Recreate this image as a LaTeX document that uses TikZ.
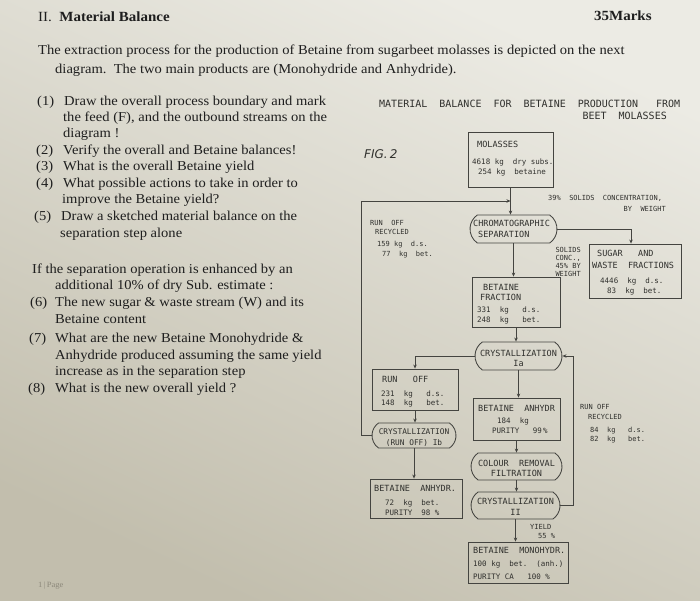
\documentclass[tikz,border=0pt]{standalone}
\usepackage{fontspec}
\setmainfont{Liberation Serif}[FakeStretch=1.07]
\newfontfamily\lett{DejaVu Sans Mono}
\newfontfamily\figfont{DejaVu Sans}
\usetikzlibrary{arrows.meta,shapes.misc}
\definecolor{bgtop}{RGB}{236,235,228}
\definecolor{bgbot}{RGB}{194,190,173}
\definecolor{lc}{RGB}{68,68,64}
\definecolor{tc}{RGB}{48,48,45}
\definecolor{txc}{RGB}{30,30,30}
\definecolor{faint}{RGB}{140,136,122}
\begin{document}
\begin{tikzpicture}[x=1pt,y=-1pt,
  box/.style={draw=lc, line width=0.85pt, inner sep=0pt, rectangle},
  proc/.style={draw=lc, line width=0.85pt, inner sep=0pt, rounded rectangle, rounded rectangle arc length=110},
  con/.style={draw=lc, line width=0.85pt},
  arr/.style={con, -{Stealth[length=4pt,width=3.5pt]}},
  ti/.style={font=\lett\fontsize{8.5}{9}\selectfont, text=tc, inner sep=0pt, anchor=base west},
  tic/.style={ti, anchor=base},
  tis/.style={font=\lett\fontsize{7.8}{9}\selectfont, text=tc, inner sep=0pt, anchor=base},
  da/.style={font=\lett\fontsize{7.5}{8}\selectfont, text=tc, inner sep=0pt, anchor=base west},
  sm/.style={font=\lett\fontsize{7}{8}\selectfont, text=tc, inner sep=0pt, anchor=base west},
  smr/.style={sm, anchor=base east},
  hd/.style={font=\lett\fontsize{10}{11}\selectfont, text=tc, inner sep=0pt, anchor=base west},
  tx/.style={font=\fontsize{13.6}{16}\selectfont, text=txc, inner sep=0pt, anchor=base west},
  ttl/.style={font=\fontsize{14}{16}\selectfont, text=txc, inner sep=0pt, anchor=base west}]
\useasboundingbox (0,0) rectangle (700,601);
\shade[top color=bgtop, bottom color=bgbot, shading angle=-25] (0,0) rectangle (700,601);

% ---------- header and questions ----------
\node[ttl] (h1) at (38,22) {II.\ \ \textbf{Material Balance}};
\node[ttl] (h2) at (594,21) {\textbf{35Marks}};
\node[tx] (p1) at (38,55) {The extraction process for the production of Betaine from sugarbeet molasses is depicted on the next};
\node[tx] (p2) at (55,74) {diagram.\ \ The two main products are (Monohydride and Anhydride).};

\node[tx] (q1n) at (37,106) {(1)};
\node[tx] (q1a) at (64,106) {Draw the overall process boundary and mark};
\node[tx] (q1b) at (63,122) {the feed (F), and the outbound streams on the};
\node[tx] (q1c) at (63,138) {diagram !};
\node[tx] (q2n) at (36,155) {(2)};
\node[tx] (q2a) at (63,155) {Verify the overall and Betaine balances!};
\node[tx] (q3n) at (36,171) {(3)};
\node[tx] (q3a) at (63,171) {What is the overall Betaine yield};
\node[tx] (q4n) at (36,188) {(4)};
\node[tx] (q4a) at (63,188) {What possible actions to take in order to};
\node[tx] (q4b) at (62,204) {improve the Betaine yield?};
\node[tx] (q5n) at (34,221) {(5)};
\node[tx] (q5a) at (61,221) {Draw a sketched material balance on the};
\node[tx] (q5b) at (60,238) {separation step alone};

\node[tx] (r0) at (32,273) {If the separation operation is enhanced by an};
\node[tx] (r0b) at (55,289) {additional 10\% of dry Sub. estimate :};
\node[tx] (q6n) at (30,306) {(6)};
\node[tx] (q6a) at (55,306) {The new sugar \& waste stream (W) and its};
\node[tx] (q6b) at (55,323) {Betaine content};
\node[tx] (q7n) at (29,342) {(7)};
\node[tx] (q7a) at (55,342) {What are the new Betaine Monohydride \&};
\node[tx] (q7b) at (55,359) {Anhydride produced assuming the same yield};
\node[tx] (q7c) at (55,375) {increase as in the separation step};
\node[tx] (q8n) at (28,392) {(8)};
\node[tx] (q8a) at (55,392) {What is the new overall yield ?};

\node[font=\fontsize{8}{9}\selectfont, text=faint, inner sep=0pt, anchor=base west] (pg) at (38,587) {1\,|\,Page};

% ---------- diagram heading ----------
\node[hd] (d1) at (379,108) {MATERIAL\ \ BALANCE\ \ FOR\ \ BETAINE\ \ PRODUCTION\ \ \ FROM};
\node[hd, anchor=base east] (d2) at (667,120) {BEET\ \ MOLASSES};
\node[font=\figfont\itshape\fontsize{12}{13}\selectfont, text=tc, inner sep=0pt, anchor=base west] (fig) at (364,159) {FIG.\,2};

% ---------- boxes ----------
\node[box, minimum width=85pt, minimum height=55pt] (mol) at (510.5,159.5) {};
\node[proc, minimum width=87pt, minimum height=28pt] (chrom) at (513.5,229) {};
\node[box, minimum width=92pt, minimum height=54pt] (sugar) at (635,271) {};
\node[box, minimum width=88pt, minimum height=50pt] (betfr) at (516,302) {};
\node[proc, minimum width=87pt, minimum height=28pt] (crIa) at (518.5,356) {};
\node[box, minimum width=86pt, minimum height=41pt] (runoff) at (415,389.5) {};
\node[proc, minimum width=84pt, minimum height=25pt] (crIb) at (414,435.5) {};
\node[box, minimum width=87pt, minimum height=42pt] (anh1) at (516.5,419) {};
\node[proc, minimum width=91pt, minimum height=27pt] (colour) at (516.5,466.5) {};
\node[proc, minimum width=89pt, minimum height=27pt] (crII) at (515.5,505.5) {};
\node[box, minimum width=100pt, minimum height=41pt] (mono) at (518,562.5) {};
\node[box, minimum width=92pt, minimum height=39pt] (anh2) at (416,498.5) {};

% ---------- connectors ----------
\coordinate (jn) at (mol.south |- 0,201);
\draw[arr] (mol.south) -- (mol.south |- chrom.north);
\draw[arr] (crIb.west) -- ++(-10,0) |- (jn);
\draw[arr] (chrom.east) -| ([xshift=-4pt]sugar.north);
\draw[arr] (chrom.south) -- (chrom.south |- betfr.north);
\draw[arr] (betfr.south) -- (betfr.south |- crIa.north);
\draw[arr] (crIa.west) -| (runoff.north);
\draw[arr] (runoff.south) -- (runoff.south |- crIb.north);
\draw[arr] (crIb.south) -- (crIb.south |- anh2.north);
\draw[arr] (crIa.south) -- (crIa.south |- anh1.north);
\draw[arr] (anh1.south) -- (anh1.south |- colour.north);
\draw[arr] (colour.south) -- (colour.south |- crII.north);
\draw[arr] (crII.south) -- (crII.south |- mono.north);
\draw[arr] (crII.east) -| ([xshift=11pt]crIa.east) -- (crIa.east);

% ---------- texts in diagram ----------
\node[ti] (m1) at (477,148) {MOLASSES};
\node[da] (m2) at (472,165) {4618\ kg\ \ dry\ subs.};
\node[da] (m3) at (478,175) {254\ kg\ \ betaine};

\node[sm] (s1) at (548,201) {39\%\ \ SOLIDS\ \ CONCENTRATION,};
\node[smr] (s2) at (666,212) {BY\ \ WEIGHT};

\node[ti] (c1) at (473,227) {CHROMATOGRAPHIC};
\node[ti] (c2) at (478,238) {SEPARATION};

\node[sm] (l1) at (370,226) {RUN\ \ OFF};
\node[sm] (l2) at (375,235) {RECYCLED};
\node[sm] (l3) at (377,247) {159\ kg\ \ d.s.};
\node[sm] (l4) at (382,256) {77\ \ kg\ \ bet.};

\node[smr] (k1) at (581,252) {SOLIDS};
\node[smr] (k2) at (581,260) {CONC.,};
\node[smr] (k3) at (581,268) {45\%\ BY};
\node[smr] (k4) at (581,276) {WEIGHT};

\node[ti] (w1) at (597,257) {SUGAR\ \ \ AND};
\node[ti] (w2) at (592,269) {WASTE\ \ FRACTIONS};
\node[da] (w3) at (600,283) {4446\ \ kg\ \ d.s.};
\node[da] (w4) at (607,293) {83\ \ kg\ \ bet.};

\node[ti] (b1) at (483,290) {BETAINE};
\node[ti] (b2) at (480,300) {FRACTION};
\node[da] (b3) at (477,312) {331\ \ kg\ \ \ d.s.};
\node[da] (b4) at (477,322) {248\ \ kg\ \ \ bet.};

\node[tic] (a1) at (crIa.center |- 0,356) {CRYSTALLIZATION};
\node[tic] (a2) at (crIa.center |- 0,366) {Ia};

\node[ti] (o1) at (382,382) {RUN\ \ \ OFF};
\node[da] (o2) at (381,396) {231\ \ kg\ \ \ d.s.};
\node[da] (o3) at (381,405) {148\ \ kg\ \ \ bet.};

\node[tis] (i1) at (crIb.center |- 0,434) {CRYSTALLIZATION};
\node[tis] (i2) at (crIb.center |- 0,445) {(RUN\ OFF)\ Ib};

\node[ti] (n1) at (478,411) {BETAINE\ \ ANHYDR};
\node[da] (n2) at (497,423) {184\ \ kg};
\node[da] (n3) at (492,433) {PURITY\ \ \ 99\,\%};

\node[sm] (e1) at (580,409) {RUN\ OFF};
\node[sm] (e2) at (588,419) {RECYCLED};
\node[sm] (e3) at (590,432) {84\ \ kg\ \ \ d.s.};
\node[sm] (e4) at (590,441) {82\ \ kg\ \ \ bet.};

\node[tic] (f1) at (colour.center |- 0,466) {COLOUR\ \ REMOVAL};
\node[tic] (f2) at (colour.center |- 0,476) {FILTRATION};

\node[tic] (g1) at (crII.center |- 0,504) {CRYSTALLIZATION};
\node[tic] (g2) at (crII.center |- 0,515) {II};

\node[sm] (y1) at (530,529) {YIELD};
\node[sm] (y2) at (538,538) {55\ \%};

\node[ti] (x1) at (473,553) {BETAINE\ \ MONOHYDR.};
\node[da] (x2) at (473,566) {100\ kg\ \ bet.\ \ (anh.)};
\node[da] (x3) at (473,579) {PURITY\ CA\ \ \ 100\ \%};

\node[ti] (z1) at (374,491) {BETAINE\ \ ANHYDR.};
\node[da] (z2) at (385,505) {72\ \ kg\ \ bet.};
\node[da] (z3) at (385,515) {PURITY\ \ 98\ \%};
\end{tikzpicture}
\end{document}
